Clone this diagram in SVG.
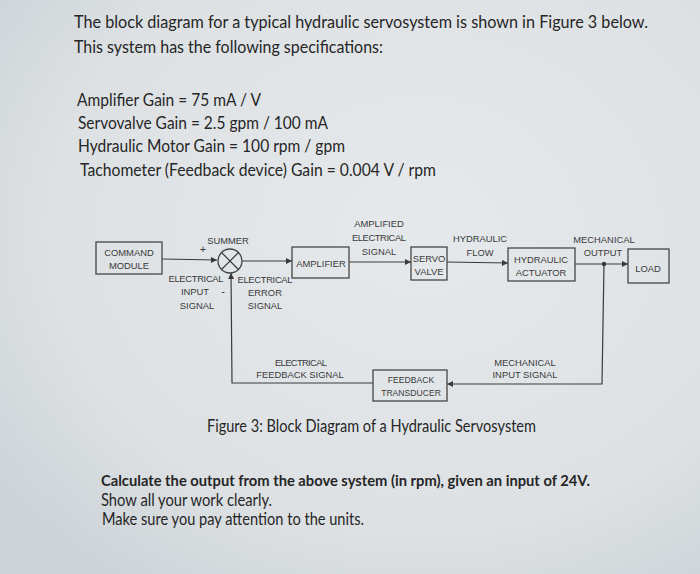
<svg xmlns="http://www.w3.org/2000/svg" width="700" height="574" viewBox="0 0 700 574">
<defs>
<radialGradient id="bg" cx="0.6" cy="0.4" r="0.75">
<stop offset="0" stop-color="#e6e9eb"/>
<stop offset="0.7" stop-color="#dde1e4"/>
<stop offset="1" stop-color="#cdd3d7"/>
</radialGradient>
<marker id="arr" viewBox="0 0 10 10" refX="10" refY="5" markerWidth="8" markerHeight="6" markerUnits="userSpaceOnUse" orient="auto">
<path d="M0,0 L10,5 L0,10 Z" fill="#3a3a3a"/>
</marker>
<style>
.body{font-family:Lato,"Open Sans",sans-serif;font-size:17px;fill:#262626}
.bold{font-weight:bold;font-size:16px}
.lbl{font-family:"Liberation Sans",Arial,sans-serif;font-size:9.4px;fill:#3a3a3a;text-anchor:middle}
.box{fill:none;stroke:#454545;stroke-width:1.3}
.ln{fill:none;stroke:#3a3a3a;stroke-width:1.2}
</style>
</defs>
<rect width="700" height="574" fill="url(#bg)"/>

<g id="intro">
<text class="body" x="74" y="28" textLength="574" lengthAdjust="spacingAndGlyphs">The block diagram for a typical hydraulic servosystem is shown in Figure 3 below.</text>
<text class="body" x="74" y="53" textLength="309" lengthAdjust="spacingAndGlyphs">This system has the following specifications:</text>
<text class="body" x="77" y="106" textLength="184" lengthAdjust="spacingAndGlyphs">Amplifier Gain = 75 mA / V</text>
<text class="body" x="78" y="129" textLength="250" lengthAdjust="spacingAndGlyphs">Servovalve Gain = 2.5 gpm / 100 mA</text>
<text class="body" x="78" y="152" textLength="267" lengthAdjust="spacingAndGlyphs">Hydraulic Motor Gain = 100 rpm / gpm</text>
<text class="body" x="80" y="176" textLength="356" lengthAdjust="spacingAndGlyphs">Tachometer (Feedback device) Gain = 0.004 V / rpm</text>
</g>

<g id="connectors">
<line class="ln" x1="162" y1="259" x2="217" y2="260" marker-end="url(#arr)"/>
<line class="ln" x1="242" y1="261" x2="292" y2="261" marker-end="url(#arr)"/>
<line class="ln" x1="349" y1="262" x2="411" y2="262" marker-end="url(#arr)"/>
<line class="ln" x1="447" y1="262" x2="508" y2="263" marker-end="url(#arr)"/>
<line class="ln" x1="575" y1="264" x2="628" y2="264" marker-end="url(#arr)"/>
<circle cx="604" cy="264" r="2.2" fill="#3a3a3a"/>
<polyline class="ln" points="604,264 602,384 447,384" marker-end="url(#arr)"/>
<polyline class="ln" points="373,383 232,383 231,273" marker-end="url(#arr)"/>
</g>

<g id="command-module">
<rect class="box" x="96" y="242" width="66" height="32"/>
<text class="lbl" x="129" y="256">COMMAND</text>
<text class="lbl" x="129" y="269">MODULE</text>
</g>

<g id="summer">
<circle class="box" cx="230" cy="261" r="12"/>
<line class="ln" x1="221.5" y1="252.5" x2="238.5" y2="269.5"/>
<line class="ln" x1="238.5" y1="252.5" x2="221.5" y2="269.5"/>
<text class="lbl" x="228" y="244">SUMMER</text>
<text class="lbl" x="203" y="253" style="font-size:11px">+</text>
<text class="lbl" x="223" y="295" style="font-size:11px">-</text>
</g>

<g id="summer-labels">
<text class="lbl" x="196" y="282" textLength="55">ELECTRICAL</text>
<text class="lbl" x="195" y="295">INPUT</text>
<text class="lbl" x="197" y="309">SIGNAL</text>
<text class="lbl" x="265" y="283" textLength="55">ELECTRICAL</text>
<text class="lbl" x="265" y="296">ERROR</text>
<text class="lbl" x="265" y="309">SIGNAL</text>
</g>

<g id="amplifier">
<rect class="box" x="292" y="247" width="57" height="31"/>
<text class="lbl" x="321" y="267">AMPLIFIER</text>
</g>

<g id="amp-signal-label">
<text class="lbl" x="379" y="227">AMPLIFIED</text>
<text class="lbl" x="379" y="241" textLength="54">ELECTRICAL</text>
<text class="lbl" x="379" y="255">SIGNAL</text>
</g>

<g id="servo-valve">
<rect class="box" x="411" y="247" width="36" height="33"/>
<text class="lbl" x="429" y="262">SERVO</text>
<text class="lbl" x="429" y="275">VALVE</text>
</g>

<g id="flow-label">
<text class="lbl" x="480" y="242">HYDRAULIC</text>
<text class="lbl" x="480" y="256">FLOW</text>
</g>

<g id="hydraulic-actuator">
<rect class="box" x="508" y="248" width="67" height="33"/>
<text class="lbl" x="541" y="263">HYDRAULIC</text>
<text class="lbl" x="541" y="276">ACTUATOR</text>
</g>

<g id="output-label">
<text class="lbl" x="604" y="243">MECHANICAL</text>
<text class="lbl" x="603" y="256">OUTPUT</text>
</g>

<g id="load">
<rect class="box" x="628" y="249" width="41" height="34"/>
<text class="lbl" x="648" y="272">LOAD</text>
</g>

<g id="feedback-labels">
<text class="lbl" x="301" y="366" textLength="52">ELECTRICAL</text>
<text class="lbl" x="300" y="378">FEEDBACK SIGNAL</text>
<text class="lbl" x="525" y="366">MECHANICAL</text>
<text class="lbl" x="525" y="378">INPUT SIGNAL</text>
</g>

<g id="feedback-transducer">
<rect class="box" x="373" y="370" width="74" height="31"/>
<text class="lbl" x="411" y="383" style="font-size:8.6px">FEEDBACK</text>
<text class="lbl" x="411" y="396" style="font-size:8.6px">TRANSDUCER</text>
</g>

<g id="caption">
<text class="body" x="207" y="432" textLength="329" lengthAdjust="spacingAndGlyphs">Figure 3: Block Diagram of a Hydraulic Servosystem</text>
</g>

<g id="question">
<text class="body bold" x="101" y="486" textLength="489" lengthAdjust="spacingAndGlyphs">Calculate the output from the above system (in rpm), given an input of 24V.</text>
<text class="body" x="101" y="506" textLength="171" lengthAdjust="spacingAndGlyphs">Show all your work clearly.</text>
<text class="body" x="102" y="525" textLength="262" lengthAdjust="spacingAndGlyphs">Make sure you pay attention to the units.</text>
</g>
</svg>
